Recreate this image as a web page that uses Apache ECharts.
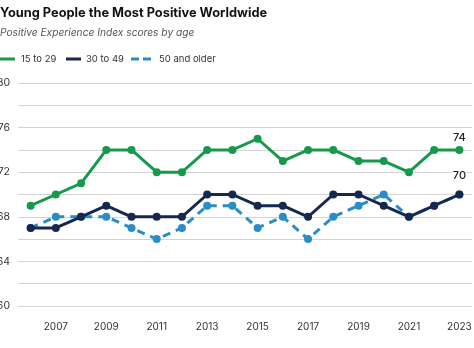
<!DOCTYPE html>
<html>
<head>
<meta charset="utf-8">
<script src="https://cdn.jsdelivr.net/npm/echarts@6/dist/echarts.min.js"></script>
<style>
  html, body { margin: 0; padding: 0; background: #fff; }
  #chart { width: 474px; height: 348px; }
</style>
</head>
<body>
<div id="chart"></div>
<script>
// Positive Experience Index scores by age group, 2006–2023
const years = ['2006','2007','2008','2009','2010','2011','2012','2013','2014','2015','2016','2017','2018','2019','2020','2021','2022','2023'];
const age15to29 = [69, 70, 71, 74, 74, 72, 72, 74, 74, 75, 73, 74, 74, 73, 73, 72, 74, 74];
const age30to49 = [67, 67, 68, 69, 68, 68, 68, 70, 70, 69, 69, 68, 70, 70, 69, 68, 69, 70];
const age50plus = [67, 68, 68, 68, 67, 66, 67, 69, 69, 67, 68, 66, 68, 69, 70, 68, 69, 70];
const seriesNames = ['15 to 29', '30 to 49', '50 and older'];

const GREEN = '#17994b';
const NAVY = '#15294f';
const BLUE = '#2a8dc6';
const FONT = 'Inter, "Noto Sans", sans-serif';

// Put a value label on the most recent point only
function withLastLabel(values, distance, halo) {
  return values.map((v, i) => i === values.length - 1
    ? { value: v, label: { show: true, position: 'top', distance: distance,
        color: '#222', fontSize: 11, fontWeight: 500, fontFamily: FONT,
        textBorderColor: halo ? '#fff' : 'transparent', textBorderWidth: halo ? 3 : 0 } }
    : v);
}

const chart = echarts.init(document.getElementById('chart'), null, { renderer: 'canvas' });

const legendItems = [
  { x: 0, w: 15, color: GREEN, dashed: false, tx: 21, name: seriesNames[0] },
  { x: 66, w: 15, color: NAVY, dashed: false, tx: 86, name: seriesNames[1] },
  { x: 131, w: 20, color: BLUE, dashed: true, tx: 159, name: seriesNames[2] }
];
const legendGraphics = [];
legendItems.forEach(it => {
  legendGraphics.push({
    type: 'line',
    shape: { x1: it.x, y1: 59, x2: it.x + it.w, y2: 59 },
    style: { stroke: it.color, lineWidth: 3, lineDash: it.dashed ? [8, 4] : null }
  });
  legendGraphics.push({
    type: 'text', x: it.tx, y: 59,
    style: { text: it.name, fill: '#333', font: '400 9.5px ' + FONT, textVerticalAlign: 'middle' }
  });
});

chart.setOption({
  animation: false,
  backgroundColor: '#fff',
  textStyle: { fontFamily: FONT },
  graphic: [
    { type: 'text', x: 0, y: 13,
      style: { text: 'Young People the Most Positive Worldwide', fill: '#111',
        font: '700 12.8px ' + FONT, textVerticalAlign: 'middle' } },
    { type: 'text', x: 0, y: 33,
      style: { text: 'Positive Experience Index scores by age', fill: '#555',
        font: 'italic 400 10.2px ' + FONT, textVerticalAlign: 'middle' } }
  ].concat(legendGraphics),
  grid: { left: 18, right: 2, top: 83, bottom: 42, containLabel: false, outerBoundsMode: 'none' },
  xAxis: {
    type: 'category',
    data: years,
    boundaryGap: true,
    axisLine: { show: false },
    axisTick: { show: false },
    axisLabel: {
      interval: (idx) => idx % 2 === 1,
      color: '#333', fontSize: 10, margin: 16, fontFamily: FONT
    },
    splitLine: { show: false }
  },
  yAxis: {
    type: 'value',
    min: 60, max: 80, interval: 2,
    axisLine: { show: false },
    axisTick: { show: false },
    axisLabel: {
      formatter: (v) => (v % 4 === 0 ? String(v) : ''),
      color: '#333', fontSize: 10.5, margin: 8, fontFamily: FONT
    },
    splitLine: { lineStyle: { color: '#d3d3d3', width: 1 } }
  },
  series: [
    {
      name: seriesNames[2], type: 'line', z: 2,
      data: age50plus,
      symbol: 'circle', symbolSize: 8,
      lineStyle: { color: BLUE, width: 3, type: [8, 6] },
      itemStyle: { color: BLUE }
    },
    {
      name: seriesNames[1], type: 'line', z: 3,
      data: withLastLabel(age30to49, 9, true),
      symbol: 'circle', symbolSize: 8,
      lineStyle: { color: NAVY, width: 3 },
      itemStyle: { color: NAVY }
    },
    {
      name: seriesNames[0], type: 'line', z: 4,
      data: withLastLabel(age15to29, 3, false),
      symbol: 'circle', symbolSize: 8,
      lineStyle: { color: GREEN, width: 3 },
      itemStyle: { color: GREEN }
    }
  ]
});
</script>
</body>
</html>
